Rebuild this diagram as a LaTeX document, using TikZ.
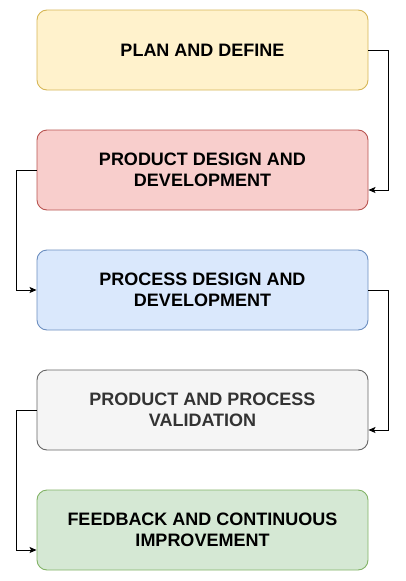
\documentclass[tikz,border=0pt]{standalone}
\usepackage{fontspec}
\setmainfont{Liberation Sans}
\usetikzlibrary{arrows.meta}
\definecolor{planfill}{HTML}{FFF2CC}
\definecolor{planline}{HTML}{D6B656}
\definecolor{prodfill}{HTML}{F8CECC}
\definecolor{prodline}{HTML}{B85450}
\definecolor{procfill}{HTML}{DAE8FC}
\definecolor{procline}{HTML}{6C8EBF}
\definecolor{valfill}{HTML}{F5F5F5}
\definecolor{valline}{HTML}{666666}
\definecolor{valtext}{HTML}{333333}
\definecolor{fbfill}{HTML}{D5E8D4}
\definecolor{fbline}{HTML}{82B366}
\tikzset{
  stage/.style={rectangle, rounded corners=10pt, line width=0.9pt,
    minimum width=331pt, minimum height=80pt, align=center,
    font=\fontsize{18}{20.5}\selectfont\bfseries, inner sep=0pt},
  flow/.style={line width=1pt, -{Stealth[length=7pt,width=6pt,inset=1.5pt]}}
}
\begin{document}
\begin{tikzpicture}[x=1pt,y=-1pt]
          \useasboundingbox (0,0) rectangle (406,581);
          \node [stage, fill=planfill, draw=planline] (S1) at (202.5, 50) {PLAN AND DEFINE};
          \node [stage, fill=prodfill, draw=prodline] (S2) at (202.5, 170) {PRODUCT DESIGN AND\\DEVELOPMENT};
          \node [stage, fill=procfill, draw=procline] (S3) at (202.5, 290) {PROCESS DESIGN AND\\DEVELOPMENT};
          \node [stage, fill=valfill, draw=valline, text=valtext] (S4) at (202.5, 410) {PRODUCT AND PROCESS\\VALIDATION};
          \node [stage, fill=fbfill, draw=fbline] (S5) at (202.5, 530) {FEEDBACK AND CONTINUOUS\\IMPROVEMENT};
          \coordinate (S2in) at ([yshift=-20pt]S2.east);
          \coordinate (S4in) at ([yshift=-20pt]S4.east);
          \coordinate (S5in) at ([yshift=-20pt]S5.west);
          \draw [flow] (S1.east) -- ++(20,0) |- (S2in);
          \draw [flow] (S2.west) -- ++(-20,0) |- (S3.west);
          \draw [flow] (S3.east) -- ++(20,0) |- (S4in);
          \draw [flow] (S4.west) -- ++(-20,0) |- (S5in);
\end{tikzpicture}
\end{document}
